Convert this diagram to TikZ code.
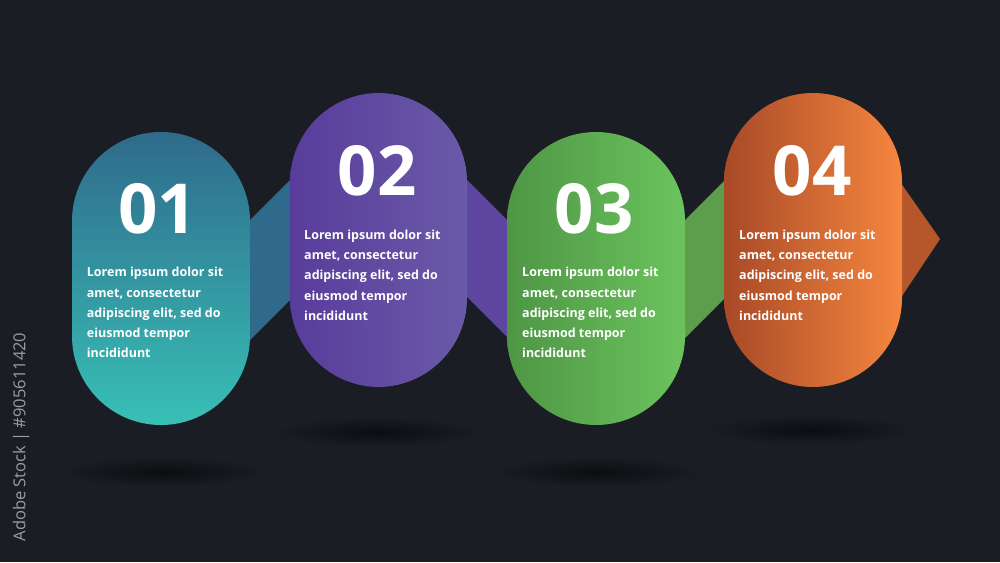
\documentclass[tikz,border=0pt]{standalone}
\usepackage{fontspec}
\setmainfont{Open Sans}
\definecolor{bg}{HTML}{1B1D24}
\definecolor{shadow}{HTML}{0C0D10}
\definecolor{wmark}{HTML}{9A9CA2}
\definecolor{tealtop}{HTML}{2F6A8B}
\definecolor{tealmid}{HTML}{3493A3}
\definecolor{tealbot}{HTML}{38C0B6}
\definecolor{purpleleft}{HTML}{583C9B}
\definecolor{purpleright}{HTML}{6A5AA8}
\definecolor{greenleft}{HTML}{4E9645}
\definecolor{greenmid}{HTML}{63BC57}
\definecolor{greenright}{HTML}{6CC35E}
\definecolor{orangeleft}{HTML}{A84A27}
\definecolor{orangemid}{HTML}{E3722F}
\definecolor{orangeright}{HTML}{F6863F}
\definecolor{bandteal}{HTML}{2F6A8C}
\definecolor{bandpurple}{HTML}{5E45A0}
\definecolor{bandgreen}{HTML}{5D9E4E}
\definecolor{bandorange}{HTML}{B5572A}
\begin{document}
\begin{tikzpicture}[x=1pt, y=-1pt,
	pill/.style={rounded corners=89},
	num/.style={text=white, anchor=base, inner sep=0pt, font=\fontsize{69}{69}\selectfont\bfseries},
	txt/.style={text=white, anchor=north west, inner sep=0pt, align=left, font=\fontsize{12.5}{20.3}\selectfont\bfseries}]
	\fill[bg] (0, 0) rectangle (1000, 562);
	\node[rotate=90, text=wmark, font=\fontsize{16.5}{16.5}\selectfont] (stock) at (21, 437) {Adobe Stock | \#905611420};
	\shade[inner color=shadow, outer color=bg] (163, 472) ellipse (105 and 15);
	\shade[inner color=shadow, outer color=bg] (377, 432) ellipse (105 and 15);
	\shade[inner color=shadow, outer color=bg] (597, 472) ellipse (105 and 15);
	\shade[inner color=shadow, outer color=bg] (810, 430) ellipse (105 and 15);
	\fill[bandteal] (230, 240) -- (310, 160) -- (310, 280) -- (230, 360) -- cycle;
	\fill[bandpurple] (447, 160) -- (527, 240) -- (527, 357) -- (447, 277) -- cycle;
	\fill[bandgreen] (665, 240) -- (744, 161) -- (744, 279) -- (665, 358) -- cycle;
	\fill[bandorange] (870, 139) -- (940, 239) -- (870, 344) -- cycle;
	\shade[pill, top color=tealtop, middle color=tealmid, bottom color=tealbot] (72, 132) rectangle (250, 425);
	\shade[pill, left color=purpleleft, right color=purpleright] (290, 93) rectangle (467, 387);
	\shade[pill, left color=greenleft, middle color=greenmid, right color=greenright] (507, 132) rectangle (685, 425);
	\shade[pill, left color=orangeleft, middle color=orangemid, right color=orangeright] (724, 93) rectangle (902, 387);
	\node[num] (n1) at (157.5, 233.3) {01};
	\node[num] (n2) at (377, 195) {02};
	\node[num] (n3) at (594, 233.3) {03};
	\node[num] (n4) at (812, 195) {04};
	\node[txt] (t1) at (86.7, 267) {Lorem ipsum dolor sit\\amet, consectetur\\adipiscing elit, sed do\\eiusmod tempor\\incididunt};
	\node[txt] (t2) at (304, 229.5) {Lorem ipsum dolor sit\\amet, consectetur\\adipiscing elit, sed do\\eiusmod tempor\\incididunt};
	\node[txt] (t3) at (522, 267) {Lorem ipsum dolor sit\\amet, consectetur\\adipiscing elit, sed do\\eiusmod tempor\\incididunt};
	\node[txt] (t4) at (739, 229.5) {Lorem ipsum dolor sit\\amet, consectetur\\adipiscing elit, sed do\\eiusmod tempor\\incididunt};
\end{tikzpicture}
\end{document}
